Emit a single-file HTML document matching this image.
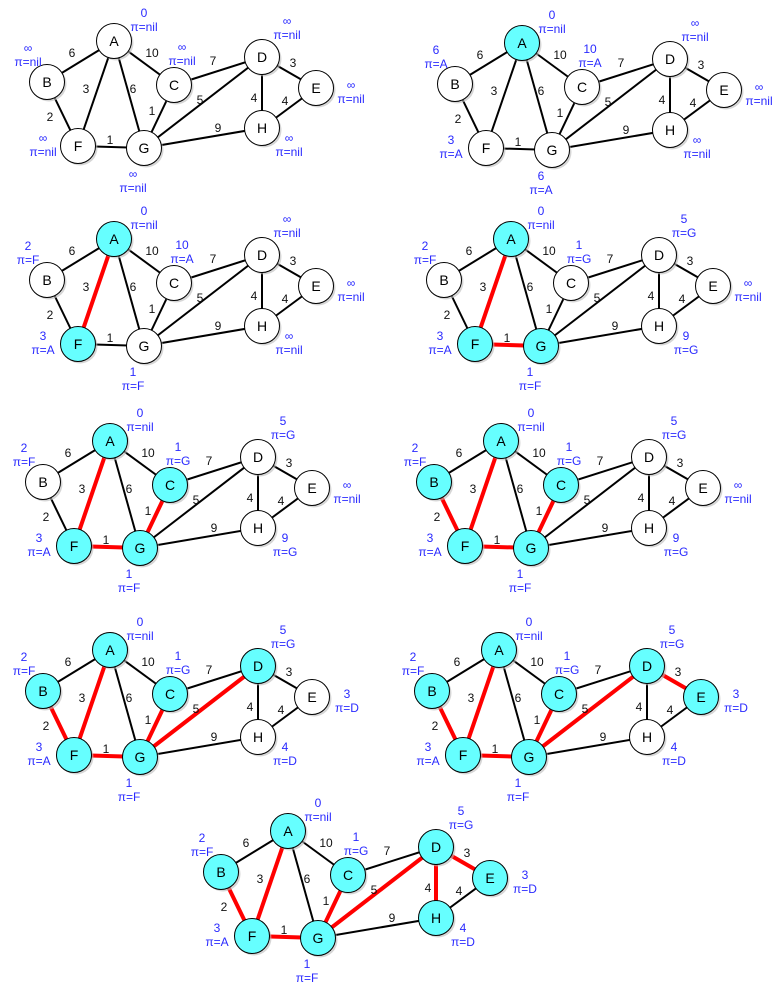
<!DOCTYPE html>
<html><head><meta charset="utf-8"><style>
html,body{margin:0;padding:0;background:#fff;}
svg{display:block;}
.w{font:12px "Liberation Sans",sans-serif;fill:#111;text-anchor:middle;}
.a{font:12px "Liberation Sans",sans-serif;fill:#2a2aff;text-anchor:middle;}
.n{font:14px "Liberation Sans",sans-serif;fill:#000;text-anchor:middle;}
</style></head><body>
<svg width="783" height="989" viewBox="0 0 783 989" xmlns="http://www.w3.org/2000/svg">
<defs>
<g id="E" stroke="#000" stroke-width="2">
<line x1="114" y1="41" x2="47" y2="82"/><line x1="114" y1="41" x2="78" y2="146"/>
<line x1="114" y1="41" x2="144" y2="148"/><line x1="114" y1="41" x2="174" y2="85"/>
<line x1="47" y1="82" x2="78" y2="146"/><line x1="78" y1="146" x2="144" y2="148"/>
<line x1="174" y1="85" x2="144" y2="148"/><line x1="174" y1="85" x2="262" y2="57"/>
<line x1="144" y1="148" x2="262" y2="57"/><line x1="144" y1="148" x2="262" y2="128"/>
<line x1="262" y1="57" x2="316" y2="88"/><line x1="262" y1="57" x2="262" y2="128"/>
<line x1="316" y1="88" x2="262" y2="128"/>
</g>
<g id="S" fill="#bbb" opacity="0.6">
<circle cx="116" cy="43" r="17.5"/><circle cx="49" cy="84" r="17.5"/><circle cx="176" cy="87" r="17.5"/><circle cx="264" cy="59" r="17.5"/><circle cx="318" cy="90" r="17.5"/><circle cx="80" cy="148" r="17.5"/><circle cx="146" cy="150" r="17.5"/><circle cx="264" cy="130" r="17.5"/>
</g>
</defs>

<!-- Panel 1 -->
<g transform="translate(0,0)">
<use href="#E"/><use href="#S"/>
<g stroke="#000" stroke-width="1" fill="#fff">
<circle cx="114" cy="41" r="17.5"/><circle cx="47" cy="82" r="17.5"/><circle cx="174" cy="85" r="17.5"/><circle cx="262" cy="57" r="17.5"/><circle cx="316" cy="88" r="17.5"/><circle cx="78" cy="146" r="17.5"/><circle cx="144" cy="148" r="17.5"/><circle cx="262" cy="128" r="17.5"/>
</g>
<text class="n" x="114" y="46">A</text><text class="n" x="47" y="87">B</text><text class="n" x="174" y="90">C</text><text class="n" x="262" y="62">D</text><text class="n" x="316" y="93">E</text><text class="n" x="78" y="151">F</text><text class="n" x="144" y="153">G</text><text class="n" x="262" y="133">H</text>
<text class="w" x="72" y="57">6</text><text class="w" x="86" y="93">3</text><text class="w" x="133" y="93">6</text><text class="w" x="152" y="57">10</text><text class="w" x="152" y="115">1</text><text class="w" x="50" y="121">2</text><text class="w" x="110" y="144">1</text><text class="w" x="213" y="65">7</text><text class="w" x="200" y="104">5</text><text class="w" x="293" y="67">3</text><text class="w" x="254" y="102">4</text><text class="w" x="285" y="105">4</text><text class="w" x="218" y="132">9</text>
<text class="a" x="144" y="17">0</text><text class="a" x="144" y="31">π=nil</text>
<text class="a" x="28" y="52">∞</text><text class="a" x="28" y="66">π=nil</text>
<text class="a" x="182" y="51">∞</text><text class="a" x="182" y="65">π=nil</text>
<text class="a" x="287" y="25">∞</text><text class="a" x="287" y="39">π=nil</text>
<text class="a" x="351" y="89">∞</text><text class="a" x="351" y="103">π=nil</text>
<text class="a" x="43" y="142">∞</text><text class="a" x="43" y="156">π=nil</text>
<text class="a" x="133" y="178">∞</text><text class="a" x="133" y="192">π=nil</text>
<text class="a" x="289" y="142">∞</text><text class="a" x="289" y="156">π=nil</text>
</g>

<!-- Panel 2 -->
<g transform="translate(408,2)">
<use href="#E"/><use href="#S"/>
<g stroke="#000" stroke-width="1" fill="#fff">
<circle cx="114" cy="41" r="17.5" fill="#66ffff"/><circle cx="47" cy="82" r="17.5"/><circle cx="174" cy="85" r="17.5"/><circle cx="262" cy="57" r="17.5"/><circle cx="316" cy="88" r="17.5"/><circle cx="78" cy="146" r="17.5"/><circle cx="144" cy="148" r="17.5"/><circle cx="262" cy="128" r="17.5"/>
</g>
<text class="n" x="114" y="46">A</text><text class="n" x="47" y="87">B</text><text class="n" x="174" y="90">C</text><text class="n" x="262" y="62">D</text><text class="n" x="316" y="93">E</text><text class="n" x="78" y="151">F</text><text class="n" x="144" y="153">G</text><text class="n" x="262" y="133">H</text>
<text class="w" x="72" y="57">6</text><text class="w" x="86" y="93">3</text><text class="w" x="133" y="93">6</text><text class="w" x="152" y="57">10</text><text class="w" x="152" y="115">1</text><text class="w" x="50" y="121">2</text><text class="w" x="110" y="144">1</text><text class="w" x="213" y="65">7</text><text class="w" x="200" y="104">5</text><text class="w" x="293" y="67">3</text><text class="w" x="254" y="102">4</text><text class="w" x="285" y="105">4</text><text class="w" x="218" y="132">9</text>
<text class="a" x="144" y="17">0</text><text class="a" x="144" y="31">π=nil</text>
<text class="a" x="28" y="52">6</text><text class="a" x="28" y="66">π=A</text>
<text class="a" x="182" y="51">10</text><text class="a" x="182" y="65">π=A</text>
<text class="a" x="287" y="25">∞</text><text class="a" x="287" y="39">π=nil</text>
<text class="a" x="351" y="89">∞</text><text class="a" x="351" y="103">π=nil</text>
<text class="a" x="43" y="142">3</text><text class="a" x="43" y="156">π=A</text>
<text class="a" x="133" y="178">6</text><text class="a" x="133" y="192">π=A</text>
<text class="a" x="289" y="142">∞</text><text class="a" x="289" y="156">π=nil</text>
</g>

<!-- Panel 3 -->
<g transform="translate(0,198)">
<use href="#E"/>
<g stroke="#f00" stroke-width="4"><line x1="114" y1="41" x2="78" y2="146"/></g>
<use href="#S"/>
<g stroke="#000" stroke-width="1" fill="#fff">
<circle cx="114" cy="41" r="17.5" fill="#66ffff"/><circle cx="47" cy="82" r="17.5"/><circle cx="174" cy="85" r="17.5"/><circle cx="262" cy="57" r="17.5"/><circle cx="316" cy="88" r="17.5"/><circle cx="78" cy="146" r="17.5" fill="#66ffff"/><circle cx="144" cy="148" r="17.5"/><circle cx="262" cy="128" r="17.5"/>
</g>
<text class="n" x="114" y="46">A</text><text class="n" x="47" y="87">B</text><text class="n" x="174" y="90">C</text><text class="n" x="262" y="62">D</text><text class="n" x="316" y="93">E</text><text class="n" x="78" y="151">F</text><text class="n" x="144" y="153">G</text><text class="n" x="262" y="133">H</text>
<text class="w" x="72" y="57">6</text><text class="w" x="86" y="93">3</text><text class="w" x="133" y="93">6</text><text class="w" x="152" y="57">10</text><text class="w" x="152" y="115">1</text><text class="w" x="50" y="121">2</text><text class="w" x="110" y="144">1</text><text class="w" x="213" y="65">7</text><text class="w" x="200" y="104">5</text><text class="w" x="293" y="67">3</text><text class="w" x="254" y="102">4</text><text class="w" x="285" y="105">4</text><text class="w" x="218" y="132">9</text>
<text class="a" x="144" y="17">0</text><text class="a" x="144" y="31">π=nil</text>
<text class="a" x="28" y="52">2</text><text class="a" x="28" y="66">π=F</text>
<text class="a" x="182" y="51">10</text><text class="a" x="182" y="65">π=A</text>
<text class="a" x="287" y="25">∞</text><text class="a" x="287" y="39">π=nil</text>
<text class="a" x="351" y="89">∞</text><text class="a" x="351" y="103">π=nil</text>
<text class="a" x="43" y="142">3</text><text class="a" x="43" y="156">π=A</text>
<text class="a" x="133" y="178">1</text><text class="a" x="133" y="192">π=F</text>
<text class="a" x="289" y="142">∞</text><text class="a" x="289" y="156">π=nil</text>
</g>

<!-- Panel 4 -->
<g transform="translate(397,198)">
<use href="#E"/>
<g stroke="#f00" stroke-width="4"><line x1="114" y1="41" x2="78" y2="146"/><line x1="78" y1="146" x2="144" y2="148"/></g>
<use href="#S"/>
<g stroke="#000" stroke-width="1" fill="#fff">
<circle cx="114" cy="41" r="17.5" fill="#66ffff"/><circle cx="47" cy="82" r="17.5"/><circle cx="174" cy="85" r="17.5"/><circle cx="262" cy="57" r="17.5"/><circle cx="316" cy="88" r="17.5"/><circle cx="78" cy="146" r="17.5" fill="#66ffff"/><circle cx="144" cy="148" r="17.5" fill="#66ffff"/><circle cx="262" cy="128" r="17.5"/>
</g>
<text class="n" x="114" y="46">A</text><text class="n" x="47" y="87">B</text><text class="n" x="174" y="90">C</text><text class="n" x="262" y="62">D</text><text class="n" x="316" y="93">E</text><text class="n" x="78" y="151">F</text><text class="n" x="144" y="153">G</text><text class="n" x="262" y="133">H</text>
<text class="w" x="72" y="57">6</text><text class="w" x="86" y="93">3</text><text class="w" x="133" y="93">6</text><text class="w" x="152" y="57">10</text><text class="w" x="152" y="115">1</text><text class="w" x="50" y="121">2</text><text class="w" x="110" y="144">1</text><text class="w" x="213" y="65">7</text><text class="w" x="200" y="104">5</text><text class="w" x="293" y="67">3</text><text class="w" x="254" y="102">4</text><text class="w" x="285" y="105">4</text><text class="w" x="218" y="132">9</text>
<text class="a" x="144" y="17">0</text><text class="a" x="144" y="31">π=nil</text>
<text class="a" x="28" y="52">2</text><text class="a" x="28" y="66">π=F</text>
<text class="a" x="182" y="51">1</text><text class="a" x="182" y="65">π=G</text>
<text class="a" x="287" y="25">5</text><text class="a" x="287" y="39">π=G</text>
<text class="a" x="351" y="89">∞</text><text class="a" x="351" y="103">π=nil</text>
<text class="a" x="43" y="142">3</text><text class="a" x="43" y="156">π=A</text>
<text class="a" x="133" y="178">1</text><text class="a" x="133" y="192">π=F</text>
<text class="a" x="289" y="142">9</text><text class="a" x="289" y="156">π=G</text>
</g>

<!-- Panel 5 -->
<g transform="translate(-4,400)">
<use href="#E"/>
<g stroke="#f00" stroke-width="4"><line x1="114" y1="41" x2="78" y2="146"/><line x1="78" y1="146" x2="144" y2="148"/><line x1="174" y1="85" x2="144" y2="148"/></g>
<use href="#S"/>
<g stroke="#000" stroke-width="1" fill="#fff">
<circle cx="114" cy="41" r="17.5" fill="#66ffff"/><circle cx="47" cy="82" r="17.5"/><circle cx="174" cy="85" r="17.5" fill="#66ffff"/><circle cx="262" cy="57" r="17.5"/><circle cx="316" cy="88" r="17.5"/><circle cx="78" cy="146" r="17.5" fill="#66ffff"/><circle cx="144" cy="148" r="17.5" fill="#66ffff"/><circle cx="262" cy="128" r="17.5"/>
</g>
<text class="n" x="114" y="46">A</text><text class="n" x="47" y="87">B</text><text class="n" x="174" y="90">C</text><text class="n" x="262" y="62">D</text><text class="n" x="316" y="93">E</text><text class="n" x="78" y="151">F</text><text class="n" x="144" y="153">G</text><text class="n" x="262" y="133">H</text>
<text class="w" x="72" y="57">6</text><text class="w" x="86" y="93">3</text><text class="w" x="133" y="93">6</text><text class="w" x="152" y="57">10</text><text class="w" x="152" y="115">1</text><text class="w" x="50" y="121">2</text><text class="w" x="110" y="144">1</text><text class="w" x="213" y="65">7</text><text class="w" x="200" y="104">5</text><text class="w" x="293" y="67">3</text><text class="w" x="254" y="102">4</text><text class="w" x="285" y="105">4</text><text class="w" x="218" y="132">9</text>
<text class="a" x="144" y="17">0</text><text class="a" x="144" y="31">π=nil</text>
<text class="a" x="28" y="52">2</text><text class="a" x="28" y="66">π=F</text>
<text class="a" x="182" y="51">1</text><text class="a" x="182" y="65">π=G</text>
<text class="a" x="287" y="25">5</text><text class="a" x="287" y="39">π=G</text>
<text class="a" x="351" y="89">∞</text><text class="a" x="351" y="103">π=nil</text>
<text class="a" x="43" y="142">3</text><text class="a" x="43" y="156">π=A</text>
<text class="a" x="133" y="178">1</text><text class="a" x="133" y="192">π=F</text>
<text class="a" x="289" y="142">9</text><text class="a" x="289" y="156">π=G</text>
</g>

<!-- Panel 6 -->
<g transform="translate(387,400)">
<use href="#E"/>
<g stroke="#f00" stroke-width="4"><line x1="114" y1="41" x2="78" y2="146"/><line x1="78" y1="146" x2="144" y2="148"/><line x1="174" y1="85" x2="144" y2="148"/><line x1="47" y1="82" x2="78" y2="146"/></g>
<use href="#S"/>
<g stroke="#000" stroke-width="1" fill="#fff">
<circle cx="114" cy="41" r="17.5" fill="#66ffff"/><circle cx="47" cy="82" r="17.5" fill="#66ffff"/><circle cx="174" cy="85" r="17.5" fill="#66ffff"/><circle cx="262" cy="57" r="17.5"/><circle cx="316" cy="88" r="17.5"/><circle cx="78" cy="146" r="17.5" fill="#66ffff"/><circle cx="144" cy="148" r="17.5" fill="#66ffff"/><circle cx="262" cy="128" r="17.5"/>
</g>
<text class="n" x="114" y="46">A</text><text class="n" x="47" y="87">B</text><text class="n" x="174" y="90">C</text><text class="n" x="262" y="62">D</text><text class="n" x="316" y="93">E</text><text class="n" x="78" y="151">F</text><text class="n" x="144" y="153">G</text><text class="n" x="262" y="133">H</text>
<text class="w" x="72" y="57">6</text><text class="w" x="86" y="93">3</text><text class="w" x="133" y="93">6</text><text class="w" x="152" y="57">10</text><text class="w" x="152" y="115">1</text><text class="w" x="50" y="121">2</text><text class="w" x="110" y="144">1</text><text class="w" x="213" y="65">7</text><text class="w" x="200" y="104">5</text><text class="w" x="293" y="67">3</text><text class="w" x="254" y="102">4</text><text class="w" x="285" y="105">4</text><text class="w" x="218" y="132">9</text>
<text class="a" x="144" y="17">0</text><text class="a" x="144" y="31">π=nil</text>
<text class="a" x="28" y="52">2</text><text class="a" x="28" y="66">π=F</text>
<text class="a" x="182" y="51">1</text><text class="a" x="182" y="65">π=G</text>
<text class="a" x="287" y="25">5</text><text class="a" x="287" y="39">π=G</text>
<text class="a" x="351" y="89">∞</text><text class="a" x="351" y="103">π=nil</text>
<text class="a" x="43" y="142">3</text><text class="a" x="43" y="156">π=A</text>
<text class="a" x="133" y="178">1</text><text class="a" x="133" y="192">π=F</text>
<text class="a" x="289" y="142">9</text><text class="a" x="289" y="156">π=G</text>
</g>

<!-- Panel 7 -->
<g transform="translate(-4,609)">
<use href="#E"/>
<g stroke="#f00" stroke-width="4"><line x1="114" y1="41" x2="78" y2="146"/><line x1="78" y1="146" x2="144" y2="148"/><line x1="174" y1="85" x2="144" y2="148"/><line x1="47" y1="82" x2="78" y2="146"/><line x1="144" y1="148" x2="262" y2="57"/></g>
<use href="#S"/>
<g stroke="#000" stroke-width="1" fill="#fff">
<circle cx="114" cy="41" r="17.5" fill="#66ffff"/><circle cx="47" cy="82" r="17.5" fill="#66ffff"/><circle cx="174" cy="85" r="17.5" fill="#66ffff"/><circle cx="262" cy="57" r="17.5" fill="#66ffff"/><circle cx="316" cy="88" r="17.5"/><circle cx="78" cy="146" r="17.5" fill="#66ffff"/><circle cx="144" cy="148" r="17.5" fill="#66ffff"/><circle cx="262" cy="128" r="17.5"/>
</g>
<text class="n" x="114" y="46">A</text><text class="n" x="47" y="87">B</text><text class="n" x="174" y="90">C</text><text class="n" x="262" y="62">D</text><text class="n" x="316" y="93">E</text><text class="n" x="78" y="151">F</text><text class="n" x="144" y="153">G</text><text class="n" x="262" y="133">H</text>
<text class="w" x="72" y="57">6</text><text class="w" x="86" y="93">3</text><text class="w" x="133" y="93">6</text><text class="w" x="152" y="57">10</text><text class="w" x="152" y="115">1</text><text class="w" x="50" y="121">2</text><text class="w" x="110" y="144">1</text><text class="w" x="213" y="65">7</text><text class="w" x="200" y="104">5</text><text class="w" x="293" y="67">3</text><text class="w" x="254" y="102">4</text><text class="w" x="285" y="105">4</text><text class="w" x="218" y="132">9</text>
<text class="a" x="144" y="17">0</text><text class="a" x="144" y="31">π=nil</text>
<text class="a" x="28" y="52">2</text><text class="a" x="28" y="66">π=F</text>
<text class="a" x="182" y="51">1</text><text class="a" x="182" y="65">π=G</text>
<text class="a" x="287" y="25">5</text><text class="a" x="287" y="39">π=G</text>
<text class="a" x="351" y="89">3</text><text class="a" x="351" y="103">π=D</text>
<text class="a" x="43" y="142">3</text><text class="a" x="43" y="156">π=A</text>
<text class="a" x="133" y="178">1</text><text class="a" x="133" y="192">π=F</text>
<text class="a" x="289" y="142">4</text><text class="a" x="289" y="156">π=D</text>
</g>

<!-- Panel 8 -->
<g transform="translate(385,609)">
<use href="#E"/>
<g stroke="#f00" stroke-width="4"><line x1="114" y1="41" x2="78" y2="146"/><line x1="78" y1="146" x2="144" y2="148"/><line x1="174" y1="85" x2="144" y2="148"/><line x1="47" y1="82" x2="78" y2="146"/><line x1="144" y1="148" x2="262" y2="57"/><line x1="262" y1="57" x2="316" y2="88"/></g>
<use href="#S"/>
<g stroke="#000" stroke-width="1" fill="#fff">
<circle cx="114" cy="41" r="17.5" fill="#66ffff"/><circle cx="47" cy="82" r="17.5" fill="#66ffff"/><circle cx="174" cy="85" r="17.5" fill="#66ffff"/><circle cx="262" cy="57" r="17.5" fill="#66ffff"/><circle cx="316" cy="88" r="17.5" fill="#66ffff"/><circle cx="78" cy="146" r="17.5" fill="#66ffff"/><circle cx="144" cy="148" r="17.5" fill="#66ffff"/><circle cx="262" cy="128" r="17.5"/>
</g>
<text class="n" x="114" y="46">A</text><text class="n" x="47" y="87">B</text><text class="n" x="174" y="90">C</text><text class="n" x="262" y="62">D</text><text class="n" x="316" y="93">E</text><text class="n" x="78" y="151">F</text><text class="n" x="144" y="153">G</text><text class="n" x="262" y="133">H</text>
<text class="w" x="72" y="57">6</text><text class="w" x="86" y="93">3</text><text class="w" x="133" y="93">6</text><text class="w" x="152" y="57">10</text><text class="w" x="152" y="115">1</text><text class="w" x="50" y="121">2</text><text class="w" x="110" y="144">1</text><text class="w" x="213" y="65">7</text><text class="w" x="200" y="104">5</text><text class="w" x="293" y="67">3</text><text class="w" x="254" y="102">4</text><text class="w" x="285" y="105">4</text><text class="w" x="218" y="132">9</text>
<text class="a" x="144" y="17">0</text><text class="a" x="144" y="31">π=nil</text>
<text class="a" x="28" y="52">2</text><text class="a" x="28" y="66">π=F</text>
<text class="a" x="182" y="51">1</text><text class="a" x="182" y="65">π=G</text>
<text class="a" x="287" y="25">5</text><text class="a" x="287" y="39">π=G</text>
<text class="a" x="351" y="89">3</text><text class="a" x="351" y="103">π=D</text>
<text class="a" x="43" y="142">3</text><text class="a" x="43" y="156">π=A</text>
<text class="a" x="133" y="178">1</text><text class="a" x="133" y="192">π=F</text>
<text class="a" x="289" y="142">4</text><text class="a" x="289" y="156">π=D</text>
</g>

<!-- Panel 9 -->
<g transform="translate(174,790)">
<use href="#E"/>
<g stroke="#f00" stroke-width="4"><line x1="114" y1="41" x2="78" y2="146"/><line x1="78" y1="146" x2="144" y2="148"/><line x1="174" y1="85" x2="144" y2="148"/><line x1="47" y1="82" x2="78" y2="146"/><line x1="144" y1="148" x2="262" y2="57"/><line x1="262" y1="57" x2="316" y2="88"/><line x1="262" y1="57" x2="262" y2="128"/></g>
<use href="#S"/>
<g stroke="#000" stroke-width="1" fill="#66ffff">
<circle cx="114" cy="41" r="17.5"/><circle cx="47" cy="82" r="17.5"/><circle cx="174" cy="85" r="17.5"/><circle cx="262" cy="57" r="17.5"/><circle cx="316" cy="88" r="17.5"/><circle cx="78" cy="146" r="17.5"/><circle cx="144" cy="148" r="17.5"/><circle cx="262" cy="128" r="17.5"/>
</g>
<text class="n" x="114" y="46">A</text><text class="n" x="47" y="87">B</text><text class="n" x="174" y="90">C</text><text class="n" x="262" y="62">D</text><text class="n" x="316" y="93">E</text><text class="n" x="78" y="151">F</text><text class="n" x="144" y="153">G</text><text class="n" x="262" y="133">H</text>
<text class="w" x="72" y="57">6</text><text class="w" x="86" y="93">3</text><text class="w" x="133" y="93">6</text><text class="w" x="152" y="57">10</text><text class="w" x="152" y="115">1</text><text class="w" x="50" y="121">2</text><text class="w" x="110" y="144">1</text><text class="w" x="213" y="65">7</text><text class="w" x="200" y="104">5</text><text class="w" x="293" y="67">3</text><text class="w" x="254" y="102">4</text><text class="w" x="285" y="105">4</text><text class="w" x="218" y="132">9</text>
<text class="a" x="144" y="17">0</text><text class="a" x="144" y="31">π=nil</text>
<text class="a" x="28" y="52">2</text><text class="a" x="28" y="66">π=F</text>
<text class="a" x="182" y="51">1</text><text class="a" x="182" y="65">π=G</text>
<text class="a" x="287" y="25">5</text><text class="a" x="287" y="39">π=G</text>
<text class="a" x="351" y="89">3</text><text class="a" x="351" y="103">π=D</text>
<text class="a" x="43" y="142">3</text><text class="a" x="43" y="156">π=A</text>
<text class="a" x="133" y="178">1</text><text class="a" x="133" y="192">π=F</text>
<text class="a" x="289" y="142">4</text><text class="a" x="289" y="156">π=D</text>
</g>
</svg>
</body></html>
